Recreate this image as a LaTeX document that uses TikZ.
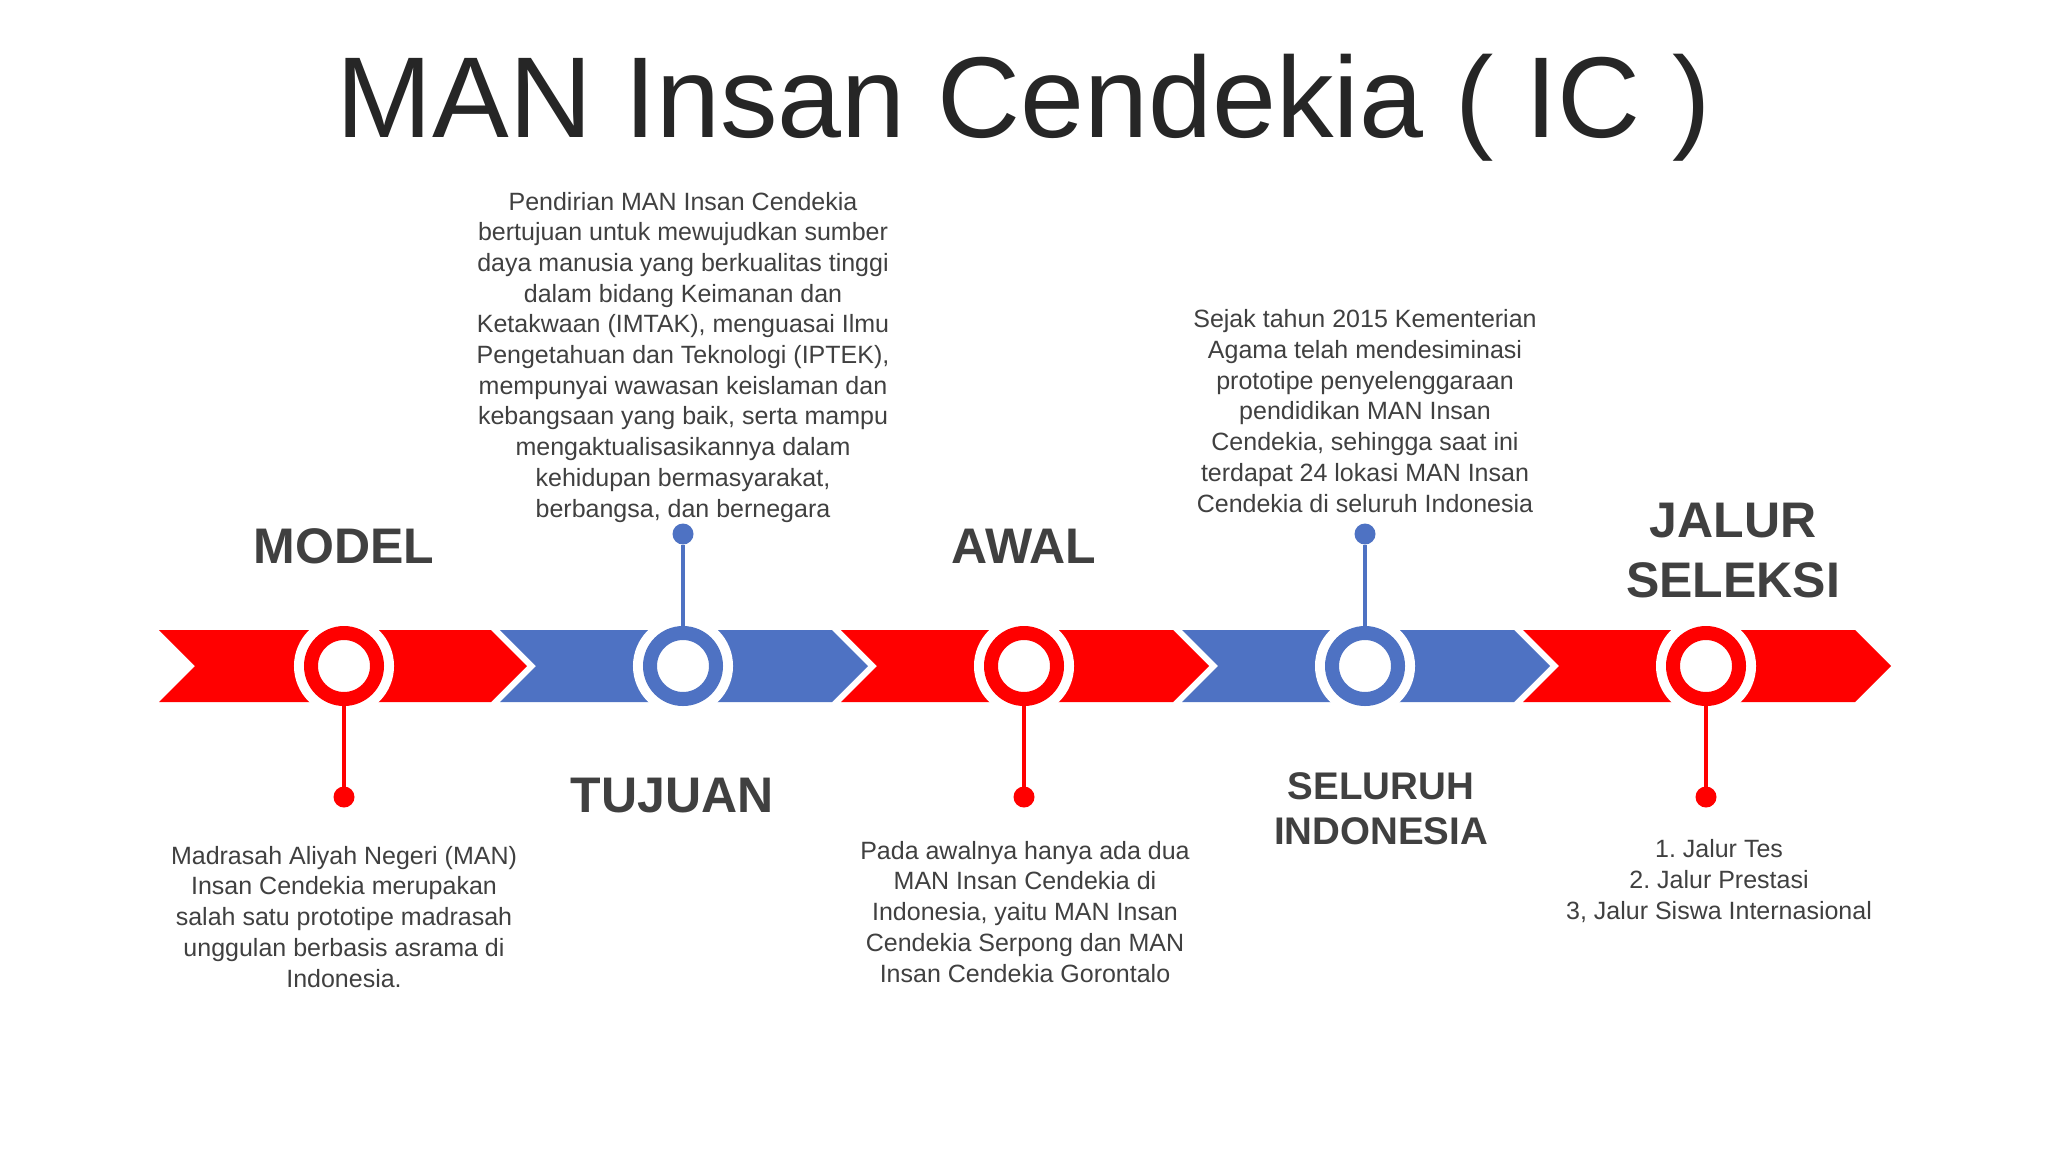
\documentclass[tikz,border=0pt]{standalone}
\usepackage{fontspec}
\setmainfont{Liberation Sans}
\frenchspacing
\definecolor{icred}{HTML}{FF0000}
\definecolor{icblue}{HTML}{4E72C3}
\definecolor{ictext}{HTML}{404040}
\definecolor{ictitle}{HTML}{262626}
\begin{document}
\begin{tikzpicture}[x=1pt,y=-1pt,
  ring/.style={draw=#1,circle,line width=14pt,fill=white,minimum size=66pt,inner sep=0pt,preaction={draw=white,line width=34pt}},
  dot/.style={circle,fill=#1,minimum size=21pt,inner sep=0pt,outer sep=0pt},
  stem/.style={draw=#1,line width=4pt},
  head/.style={anchor=base,inner sep=0pt,text=ictext,align=center,font=\fontsize{50}{60}\selectfont\bfseries},
  body/.style={anchor=base,inner sep=0pt,text=ictext,align=center,font=\fontsize{25}{30.7}\selectfont}]
\fill[white] (0,0) rectangle (2048,1152);
\useasboundingbox (0,0) rectangle (2048,1152);

\node[anchor=base,inner sep=0pt,text=ictitle,font=\fontsize{115}{120}\selectfont] (title) at (1024,137) {MAN Insan Cendekia ( IC )};

% timeline band
\fill[icred] (159,630) -- ++(332,0) -- ++(36,36) -- ++(-36,36) -- ++(-332,0) -- ++(36,-36) -- cycle;
\fill[icblue] (500,630) -- ++(332,0) -- ++(36,36) -- ++(-36,36) -- ++(-332,0) -- ++(36,-36) -- cycle;
\fill[icred] (841,630) -- ++(332,0) -- ++(36,36) -- ++(-36,36) -- ++(-332,0) -- ++(36,-36) -- cycle;
\fill[icblue] (1182,630) -- ++(332,0) -- ++(36,36) -- ++(-36,36) -- ++(-332,0) -- ++(36,-36) -- cycle;
\fill[icred] (1523,630) -- ++(332,0) -- ++(36,36) -- ++(-36,36) -- ++(-332,0) -- ++(36,-36) -- cycle;

\node[ring=icred] (R1) at (344,666) {};
\node[ring=icblue] (R2) at (683,666) {};
\node[ring=icred] (R3) at (1024,666) {};
\node[ring=icblue] (R4) at (1365,666) {};
\node[ring=icred] (R5) at (1706,666) {};

\node[dot=icred] (D1) at (344,797) {};
\node[dot=icblue] (D2) at (683,534) {};
\node[dot=icred] (D3) at (1024,797) {};
\node[dot=icblue] (D4) at (1365,534) {};
\node[dot=icred] (D5) at (1706,797) {};
\draw[stem=icred] (R1) -- (D1);
\draw[stem=icblue] (R2) -- (D2);
\draw[stem=icred] (R3) -- (D3);
\draw[stem=icblue] (R4) -- (D4);
\draw[stem=icred] (R5) -- (D5);

% headings (base = last line)
\node[head] (H1) at (344,563) {MODEL};
\node[head] (H2) at (672,812) {TUJUAN};
\node[head] (H3) at (1024,563) {AWAL};
\node[head,font=\fontsize{38.5}{45}\selectfont\bfseries] (H4) at (1381,844) {SELURUH\\INDONESIA};
\node[head,font=\fontsize{50}{60}\selectfont\bfseries] (H5) at (1733,597) {JALUR\\SELEKSI};

% texts (base = last line)
\node[body] (T1) at (344,987) {Madrasah Aliyah Negeri (MAN)\\Insan Cendekia merupakan\\salah satu prototipe madrasah\\unggulan berbasis asrama di\\Indonesia.};
\node[body] (T2) at (683,517) {Pendirian MAN Insan Cendekia\\bertujuan untuk mewujudkan sumber\\daya manusia yang berkualitas tinggi\\dalam bidang Keimanan dan\\Ketakwaan (IMTAK), menguasai Ilmu\\Pengetahuan dan Teknologi (IPTEK),\\mempunyai wawasan keislaman dan\\kebangsaan yang baik, serta mampu\\mengaktualisasikannya dalam\\kehidupan bermasyarakat,\\berbangsa, dan bernegara};
\node[body] (T3) at (1025,982) {Pada awalnya hanya ada dua\\MAN Insan Cendekia di\\Indonesia, yaitu MAN Insan\\Cendekia Serpong dan MAN\\Insan Cendekia Gorontalo};
\node[body] (T4) at (1365,512) {Sejak tahun 2015 Kementerian\\Agama telah mendesiminasi\\prototipe penyelenggaraan\\pendidikan MAN Insan\\Cendekia, sehingga saat ini\\terdapat 24 lokasi MAN Insan\\Cendekia di seluruh Indonesia};
\node[body] (T5) at (1719,919) {1. Jalur Tes\\2. Jalur Prestasi\\3, Jalur Siswa Internasional};
\end{tikzpicture}
\end{document}
